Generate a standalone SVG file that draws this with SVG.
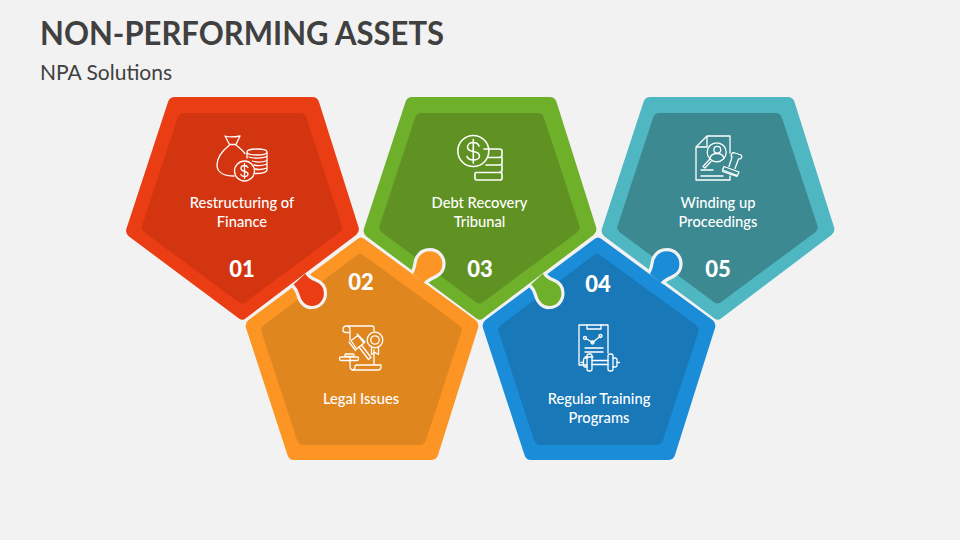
<svg xmlns="http://www.w3.org/2000/svg" width="960" height="540" viewBox="0 0 960 540">
<style>
.ttl{font-family:"Lato","Liberation Sans",sans-serif;font-weight:700;font-size:33px;fill:#404040}
.sub{font-family:"Lato","Liberation Sans",sans-serif;font-size:21px;fill:#404040}
.lbl{font-family:"Lato","Liberation Sans",sans-serif;font-size:14.7px;font-weight:500;fill:#fff;text-anchor:middle}
.num{font-family:"Lato","Liberation Sans",sans-serif;font-size:22px;font-weight:900;fill:#fff;text-anchor:middle}
.ic{fill:none;stroke:#fff;stroke-width:1.3;stroke-linecap:round;stroke-linejoin:round}
.tab{stroke:#f2f2f2;stroke-width:3.2;stroke-linecap:butt;stroke-linejoin:round}
.red{fill:#ea3d14}.redi{fill:#d33511}
.org{fill:#fc9524}.orgi{fill:#e0861f}
.grn{fill:#6eb029}.grni{fill:#5f9223}
.blu{fill:#1a8cd8}.blui{fill:#1878b8}
.tea{fill:#4fb7c1}.teai{fill:#3c8991}
</style>
<defs>
<path id="up" d="M175,97H312Q317.5,97 319,102L358.5,227Q360,232 356,235L245.5,318.5Q242.5,321 239,318.5L129,236.5Q125,233 126.5,228.5L168,102Q169.5,97 175,97Z"/>
<path id="upi" d="M184,113H300Q305,113 306.5,118L342,226Q343,230 339.5,232.5L245,302.5Q242,304.5 239,302.5L144.5,232.5Q141,230 142,226L177.5,118Q179,113 184,113Z"/>
<path id="dn" d="M357.5,239Q361,236 364.5,239L475.5,320Q479.5,323 478,328L438,455Q436.5,460 431,460H294Q289,460 287.5,455L246,328Q244.5,323 248.5,320Z"/>
<path id="dni" d="M357,255Q360,252.5 363,255L459,325Q462.5,327.5 461.5,331.5L426,440Q424.500,445 419.500,445H303.500Q298.500,445 297,440L261.500,331.500Q260.500,327.500 264,325Z"/>
<path id="tabd" d="M292.500,285.500C295,288 297,291 298,295C299.500,302 305,308 312,307.500C320,307.500 325.500,301 325.500,293C325.500,286 321,282 316,280C312,278.500 308.500,276.500 306.500,272.500"/>
<path id="tabu" d="M411.500,273C414.500,270 414.500,264 416,259C418.500,253 424,249.700 430,249.700C438,249.700 444,256 444,264C444,270 441,274 436,276.500C432,278.500 428,280 425,283.500"/>
</defs>
<rect width="960" height="540" fill="#f2f2f2"/>
<text class="ttl" x="40" y="45" textLength="404" lengthAdjust="spacingAndGlyphs">NON-PERFORMING ASSETS</text>
<text class="sub" x="40" y="80">NPA Solutions</text>

<g id="node-05">
<use href="#up" x="475.500" class="tea"/>
<use href="#upi" x="475.500" class="teai"/>
<g class="ic">
<path d="M707,136H730V153M730,176V180H696V147L707,136V147H696"/>
<circle cx="716.700" cy="152.300" r="9.500"/>
<circle cx="717.300" cy="149.800" r="3.400"/>
<path d="M710,158C711,154.500 714,153.500 717,153.500C720.500,153.500 723,155 724,158"/>
<path d="M709.500,159.500L703,166.500L705,168L711,161.500"/>
<path d="M701,170H713M701,176H723"/>
<path d="M729,166.500L732,157C730,155 732,152 735,153L741,155C743,157 741,159.500 738.500,159L735,168.500"/>
<path d="M724,166.500L739,172L737.500,175.500L722.500,170ZM722.500,171.500L737,176.500"/>
</g>
<text class="lbl" x="718" y="207.500">Winding up</text>
<text class="lbl" x="718" y="226.500">Proceedings</text>
<text class="num" x="718" y="277">05</text>
</g>

<g id="node-04">
<use href="#dn" x="237" class="blu"/>
<use href="#dni" x="237" class="blui"/>
<use href="#tabu" x="237" class="blu tab"/>
<g class="ic">
<path d="M587,365H579V325H608V353"/>
<path d="M587,325V329H601V325"/>
<path d="M586,338.500L592.500,342.500L600,336.500"/>
<circle cx="585" cy="338" r="1.500"/><circle cx="592.500" cy="342.500" r="1.500"/><circle cx="600.500" cy="336" r="1.500"/>
<path d="M585,348H603M585,352H603M585,357H593"/>
<rect x="587" y="354" width="5" height="17" rx="2"/>
<rect x="608" y="354" width="5" height="17" rx="2"/>
<path d="M587,358H585Q583.500,358 583.500,360V365Q583.500,367 585,367H587M613,358H615Q617,358 617,360V365Q617,367 615,367H613"/>
<path d="M592,360.500H608M592,364.500H608M617,362.500H619.500M583.500,362.500H581"/>
</g>
<text class="lbl" x="599" y="403.500">Regular Training</text>
<text class="lbl" x="599" y="422.500">Programs</text>
<text class="num" x="598" y="292">04</text>
</g>

<g id="node-03">
<use href="#up" x="237.500" class="grn"/>
<use href="#upi" x="237.500" class="grni"/>
<use href="#tabd" x="237.500" class="grn tab"/>
<g class="ic" style="stroke-width:1.600">
<circle cx="473.300" cy="151" r="15.500"/>
<path d="M479,146C478,143 475.500,142.500 473.300,142.500C470,142.500 467.500,144.500 467.500,147C467.500,150 470.500,151 473.300,151.500C476.500,152 479.500,153 479.500,156C479.500,158.500 476.500,160 473.300,160C470.500,160 468,159 467,156.500M473.300,139.500V163"/>
<path d="M484,149H499Q502,149 502,151V155Q502,157.500 499,157.500H488.500M502,157.500V163Q502,165 499,165H486M502,165V170Q502,172.500 499,172.500H478M478,172.500H476Q475,172.500 475,174V178.500Q475,180 476.500,180H500Q502,180 502,178.500V174Q502,172.500 500,172.500"/>
</g>
<text class="lbl" x="479.500" y="207.500">Debt Recovery</text>
<text class="lbl" x="479.500" y="226.500">Tribunal</text>
<text class="num" x="480" y="277">03</text>
</g>

<g id="node-02">
<use href="#dn" class="org"/>
<use href="#dni" class="orgi"/>
<use href="#tabu" class="org tab"/>
<g class="ic">
<path d="M350,340V330Q350,326 346.500,326Q343,326 343,330Q343,332.500 346,332.500H350M346.500,326H372Q374,326 374,328V331"/>
<path d="M374,350V365M350,358V366Q350,370 353.500,370H378Q381,370 381,367V365H356Q355,365 355,367Q355,370 352,370"/>
<circle cx="375" cy="340" r="7.800"/>
<circle cx="375" cy="340" r="4.200"/>
<path d="M371.500,347.500V354.500L375,352.500L378.500,354.500V347.500"/>
<path d="M351,340.500L358,335.500L364,343L356.500,349ZM349,342L355.500,350.500M357,334L365,342"/>
<path d="M359,347L368.500,359.500L371,357.500L361.500,345"/>
<path d="M345.500,354H353Q354,354 354,355V356.500H345V355Q345,354 345.500,354ZM341,357H357.500Q358.500,357 358.500,358.500Q358.500,360.500 357.500,360.500H341Q339.500,360.500 339.500,358.500Q339.500,357 341,357Z"/>
</g>
<text class="lbl" x="361" y="403.500">Legal Issues</text>
<text class="num" x="361" y="290">02</text>
</g>

<g id="node-01">
<use href="#up" class="red"/>
<use href="#upi" class="redi"/>
<use href="#tabd" class="red tab"/>
<g class="ic">
<path d="M225,136C228,137 235,137 240,136L236,144.500H229.500Z"/>
<path d="M229.500,145C222,151 217,158 217,165C217,173 225,176 234,176M236,145C240,148 243,151 245,153.500"/>
<circle cx="244.500" cy="171" r="10"/>
<path d="M248,167.500C247,166 245.500,165.500 244.500,165.500C242.500,165.500 241,166.500 241,168.500C241,170.500 243,171 244.500,171.300C246.500,171.600 248,172.500 248,174C248,175.500 246.500,176.500 244.500,176.500C243,176.500 241.500,176 240.800,174.500M244.500,163.500V178.500"/>
<path d="M247,152C247,148 267,148 267,152C267,156 247,156 247,152ZM247,152V158M267,152V170C267,172 262,173.500 255.500,173.500M249,157C253,158.500 262,158.500 267,156.500M252.500,161C257,162.500 263,162 267,160.500M254,165C258,166 263,165.500 267,164M255,169C259,170 263,169.500 267,168"/>
</g>
<text class="lbl" x="242" y="207.500">Restructuring of</text>
<text class="lbl" x="242" y="226.500">Finance</text>
<text class="num" x="242" y="277">01</text>
</g>
</svg>
